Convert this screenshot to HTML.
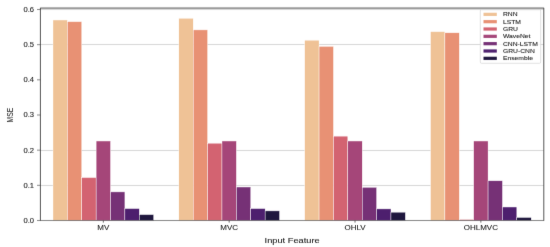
<!DOCTYPE html>
<html><head><meta charset="utf-8"><title>MSE by Input Feature</title>
<style>html,body{margin:0;padding:0;background:#fff}svg{display:block}svg text{font-family:"Liberation Sans",sans-serif}</style></head>
<body>
<svg width="550" height="247" viewBox="0 0 550 247" font-family="Liberation Sans, sans-serif" fill="#262626">
<defs><filter id="soft" x="0" y="0" width="550" height="247" filterUnits="userSpaceOnUse" color-interpolation-filters="sRGB"><feConvolveMatrix order="3" preserveAlpha="true" edgeMode="duplicate" divisor="1" kernelMatrix="0.0045 0.0810 0.0045 0.0410 0.7380 0.0410 0.0045 0.0810 0.0045"/></filter></defs>
<g filter="url(#soft)">
<rect width="550" height="247" fill="#fff"/>
<g stroke="#c6c6c6" stroke-width="0.7">
<line x1="40.4" x2="543.8" y1="185.50" y2="185.50"/>
<line x1="40.4" x2="543.8" y1="150.50" y2="150.50"/>
<line x1="40.4" x2="543.8" y1="44.50" y2="44.50"/>
<line x1="40.4" x2="543.8" y1="9.50" y2="9.50"/>
</g>
<g stroke="#fff" stroke-width="0.4">
<rect x="52.98" y="20.00" width="14.38" height="200.50" fill="#efc296"/>
<rect x="67.37" y="21.70" width="14.38" height="198.80" fill="#e89174"/>
<rect x="81.75" y="177.60" width="14.38" height="42.90" fill="#d36371"/>
<rect x="96.13" y="141.00" width="14.38" height="79.50" fill="#a54679"/>
<rect x="110.52" y="191.90" width="14.38" height="28.60" fill="#763176"/>
<rect x="124.90" y="208.60" width="14.38" height="11.90" fill="#4d1f6e"/>
<rect x="139.28" y="214.65" width="14.38" height="5.85" fill="#1f173e"/>
<rect x="178.83" y="18.30" width="14.38" height="202.20" fill="#efc296"/>
<rect x="193.22" y="29.90" width="14.38" height="190.60" fill="#e89174"/>
<rect x="207.60" y="143.20" width="14.38" height="77.30" fill="#d36371"/>
<rect x="221.98" y="141.00" width="14.38" height="79.50" fill="#a54679"/>
<rect x="236.37" y="187.00" width="14.38" height="33.50" fill="#763176"/>
<rect x="250.75" y="208.60" width="14.38" height="11.90" fill="#4d1f6e"/>
<rect x="265.13" y="210.90" width="14.38" height="9.60" fill="#1f173e"/>
<rect x="304.68" y="40.20" width="14.38" height="180.30" fill="#efc296"/>
<rect x="319.07" y="46.40" width="14.38" height="174.10" fill="#e89174"/>
<rect x="333.45" y="136.15" width="14.38" height="84.35" fill="#d36371"/>
<rect x="347.83" y="141.00" width="14.38" height="79.50" fill="#a54679"/>
<rect x="362.22" y="187.35" width="14.38" height="33.15" fill="#763176"/>
<rect x="376.60" y="208.90" width="14.38" height="11.60" fill="#4d1f6e"/>
<rect x="390.98" y="212.20" width="14.38" height="8.30" fill="#1f173e"/>
<rect x="430.53" y="31.70" width="14.38" height="188.80" fill="#efc296"/>
<rect x="444.92" y="32.80" width="14.38" height="187.70" fill="#e89174"/>
<rect x="459.30" y="219.50" width="14.38" height="1.00" fill="#d36371"/>
<rect x="473.68" y="141.00" width="14.38" height="79.50" fill="#a54679"/>
<rect x="488.07" y="180.80" width="14.38" height="39.70" fill="#763176"/>
<rect x="502.45" y="207.00" width="14.38" height="13.50" fill="#4d1f6e"/>
<rect x="516.83" y="217.50" width="14.38" height="3.00" fill="#1f173e"/>
</g>
<g stroke="#3a3a3a"><line x1="40.4" x2="40.4" y1="7.88" y2="220.8" stroke-width="0.85"/><line x1="543.8" x2="543.8" y1="7.88" y2="220.8" stroke-width="0.85"/><line x1="40.4" x2="543.8" y1="8.08" y2="8.08" stroke-width="0.9"/><line x1="40.4" x2="543.8" y1="220.5" y2="220.5" stroke-width="0.62"/></g>
<line x1="37.0" x2="40.4" y1="220.50" y2="220.50" stroke="#3a3a3a" stroke-width="0.6"/>
<text transform="translate(34.00,222.85) scale(1.187,1)" font-size="6.4" text-anchor="end" stroke="#262626" stroke-width="0.1">0.0</text>
<line x1="37.0" x2="40.4" y1="185.33" y2="185.33" stroke="#3a3a3a" stroke-width="0.6"/>
<text transform="translate(34.00,187.68) scale(1.187,1)" font-size="6.4" text-anchor="end" stroke="#262626" stroke-width="0.1">0.1</text>
<line x1="37.0" x2="40.4" y1="150.17" y2="150.17" stroke="#3a3a3a" stroke-width="0.6"/>
<text transform="translate(34.00,152.52) scale(1.187,1)" font-size="6.4" text-anchor="end" stroke="#262626" stroke-width="0.1">0.2</text>
<line x1="37.0" x2="40.4" y1="115.00" y2="115.00" stroke="#3a3a3a" stroke-width="0.6"/>
<text transform="translate(34.00,117.35) scale(1.187,1)" font-size="6.4" text-anchor="end" stroke="#262626" stroke-width="0.1">0.3</text>
<line x1="37.0" x2="40.4" y1="79.83" y2="79.83" stroke="#3a3a3a" stroke-width="0.6"/>
<text transform="translate(34.00,82.18) scale(1.187,1)" font-size="6.4" text-anchor="end" stroke="#262626" stroke-width="0.1">0.4</text>
<line x1="37.0" x2="40.4" y1="44.66" y2="44.66" stroke="#3a3a3a" stroke-width="0.6"/>
<text transform="translate(34.00,47.01) scale(1.187,1)" font-size="6.4" text-anchor="end" stroke="#262626" stroke-width="0.1">0.5</text>
<line x1="37.0" x2="40.4" y1="9.50" y2="9.50" stroke="#3a3a3a" stroke-width="0.6"/>
<text transform="translate(34.00,11.85) scale(1.187,1)" font-size="6.4" text-anchor="end" stroke="#262626" stroke-width="0.1">0.6</text>
<line x1="103.32" x2="103.32" y1="220.5" y2="222.6" stroke="#3a3a3a" stroke-width="0.75"/>
<text transform="translate(103.32,229.70) scale(1.143,1)" font-size="7.0" text-anchor="middle" stroke="#262626" stroke-width="0.1">MV</text>
<line x1="229.17" x2="229.17" y1="220.5" y2="222.6" stroke="#3a3a3a" stroke-width="0.75"/>
<text transform="translate(229.17,229.70) scale(1.143,1)" font-size="7.0" text-anchor="middle" stroke="#262626" stroke-width="0.1">MVC</text>
<line x1="355.02" x2="355.02" y1="220.5" y2="222.6" stroke="#3a3a3a" stroke-width="0.75"/>
<text transform="translate(355.02,229.70) scale(1.143,1)" font-size="7.0" text-anchor="middle" stroke="#262626" stroke-width="0.1">OHLV</text>
<line x1="480.87" x2="480.87" y1="220.5" y2="222.6" stroke="#3a3a3a" stroke-width="0.75"/>
<text transform="translate(480.87,229.70) scale(1.143,1)" font-size="7.0" text-anchor="middle" stroke="#262626" stroke-width="0.1">OHLMVC</text>
<text transform="translate(292.10,243.10) scale(1.267,1)" font-size="7.3" text-anchor="middle" stroke="#262626" stroke-width="0.1">Input Feature</text>
<text transform="translate(12.5,115.14) rotate(-90) scale(1,1.48)" font-size="6.7" text-anchor="middle" stroke="#262626" stroke-width="0.04">MSE</text>
<rect x="480.3" y="9.7" width="60.400000000000034" height="53.599999999999994" rx="1.2" fill="#fff" fill-opacity="0.8" stroke="#cccccc" stroke-width="0.6"/>
<rect x="483.5" y="12.75" width="13.3" height="3.2" fill="#efc296"/>
<text transform="translate(503.00,16.35) scale(1.205,1)" font-size="5.6" text-anchor="start" stroke="#262626" stroke-width="0.1">RNN</text>
<rect x="483.5" y="20.08" width="13.3" height="3.2" fill="#e89174"/>
<text transform="translate(503.00,23.68) scale(1.205,1)" font-size="5.6" text-anchor="start" stroke="#262626" stroke-width="0.1">LSTM</text>
<rect x="483.5" y="27.41" width="13.3" height="3.2" fill="#d36371"/>
<text transform="translate(503.00,31.01) scale(1.205,1)" font-size="5.6" text-anchor="start" stroke="#262626" stroke-width="0.1">GRU</text>
<rect x="483.5" y="34.74" width="13.3" height="3.2" fill="#a54679"/>
<text transform="translate(503.00,38.34) scale(1.205,1)" font-size="5.6" text-anchor="start" stroke="#262626" stroke-width="0.1">WaveNet</text>
<rect x="483.5" y="42.07" width="13.3" height="3.2" fill="#763176"/>
<text transform="translate(503.00,45.67) scale(1.205,1)" font-size="5.6" text-anchor="start" stroke="#262626" stroke-width="0.1">CNN-LSTM</text>
<rect x="483.5" y="49.40" width="13.3" height="3.2" fill="#4d1f6e"/>
<text transform="translate(503.00,53.00) scale(1.205,1)" font-size="5.6" text-anchor="start" stroke="#262626" stroke-width="0.1">GRU-CNN</text>
<rect x="483.5" y="56.73" width="13.3" height="3.2" fill="#1f173e"/>
<text transform="translate(503.00,60.33) scale(1.205,1)" font-size="5.6" text-anchor="start" stroke="#262626" stroke-width="0.1">Ensemble</text>
</g>
</svg>
</body></html>
